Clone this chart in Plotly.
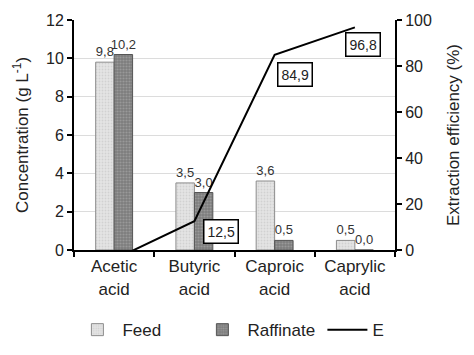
import plotly.graph_objects as go

categories = ["Acetic<br>acid", "Butyric<br>acid", "Caproic<br>acid", "Caprylic<br>acid"]
feed = [9.8, 3.5, 3.6, 0.5]
raffinate = [10.2, 3.0, 0.5, 0.0]
efficiency = [-4.1, 12.5, 84.9, 96.8]

# label box offsets (pixels) for the E values
label_dx = [0, 27, 20, 8]
label_dy = [0, -10, -20, -17]

def fmt(v):
    return f"{v:.1f}".replace(".", ",")

FONT = "Liberation Sans, Arial, sans-serif"

fig = go.Figure()
fig.add_trace(go.Bar(
    x=categories, y=feed, name="Feed",
    marker=dict(color="#dedede", line=dict(color="#8c8c8c", width=1),
                pattern=dict(shape=".", fgcolor="#bdbdbd", bgcolor="#e4e4e4", size=3, solidity=0.3)),
    text=[fmt(v) for v in feed], textposition="outside", cliponaxis=False,
    constraintext="none",
    textfont=dict(size=13, color="#333333"),
))
fig.add_trace(go.Bar(
    x=categories, y=raffinate, name="Raffinate",
    marker=dict(color="#8a8a8a", line=dict(color="#555555", width=1),
                pattern=dict(shape=".", fgcolor="#b5b5b5", bgcolor="#7d7d7d", size=3, solidity=0.4)),
    text=[fmt(v) for v in raffinate], textposition="outside", cliponaxis=False,
    constraintext="none",
    textfont=dict(size=13, color="#333333"),
))
fig.add_trace(go.Scatter(
    x=categories, y=efficiency, name="E", yaxis="y2", mode="lines",
    line=dict(color="black", width=2),
))

for c, e, dx, dy in zip(categories, efficiency, label_dx, label_dy):
    if e <= 0:
        continue
    fig.add_annotation(
        x=c, y=e, xref="x", yref="y2", text=fmt(e), showarrow=False,
        xshift=dx, yshift=dy, bgcolor="white", bordercolor="black",
        borderwidth=1.5, borderpad=3, font=dict(size=14, color="#222222", family=FONT),
    )

fig.update_layout(
    width=466, height=347,
    margin=dict(l=66, r=79, t=12, b=105, autoexpand=False),
    plot_bgcolor="white", paper_bgcolor="white",
    font=dict(family=FONT, size=16, color="#222222"),
    barmode="group", bargap=0.54, bargroupgap=0,
    showlegend=True,
    legend=dict(orientation="h", x=-0.005, xanchor="left", y=-0.27, yanchor="top",
                font=dict(size=17), traceorder="normal", itemwidth=40,
                entrywidth=70, entrywidthmode="pixels"),
    xaxis=dict(showline=True, linecolor="black", linewidth=2, ticks="outside",
               tickson="boundaries", ticklen=5, tickwidth=2, tickcolor="black",
               tickfont=dict(size=17)),
    yaxis=dict(range=[0, 12], dtick=2, showline=True, linecolor="black", linewidth=2,
               ticks="outside", ticklen=5, tickwidth=2, tickcolor="black",
               showgrid=True, gridcolor="#dcdcdc", gridwidth=1, zeroline=False,
               tickfont=dict(size=16),
               title=dict(text="Concentration (g L<sup>-1</sup>)", font=dict(size=17), standoff=13)),
    yaxis2=dict(range=[0, 100], dtick=20, overlaying="y", side="right", showline=True,
                linecolor="black", linewidth=2, ticks="outside", ticklen=5, tickwidth=2,
                tickcolor="black", showgrid=False, zeroline=False,
                tickfont=dict(size=16),
                title=dict(text="Extraction efficiency (%)", font=dict(size=17), standoff=16)),
)

fig.write_html("out.html")
